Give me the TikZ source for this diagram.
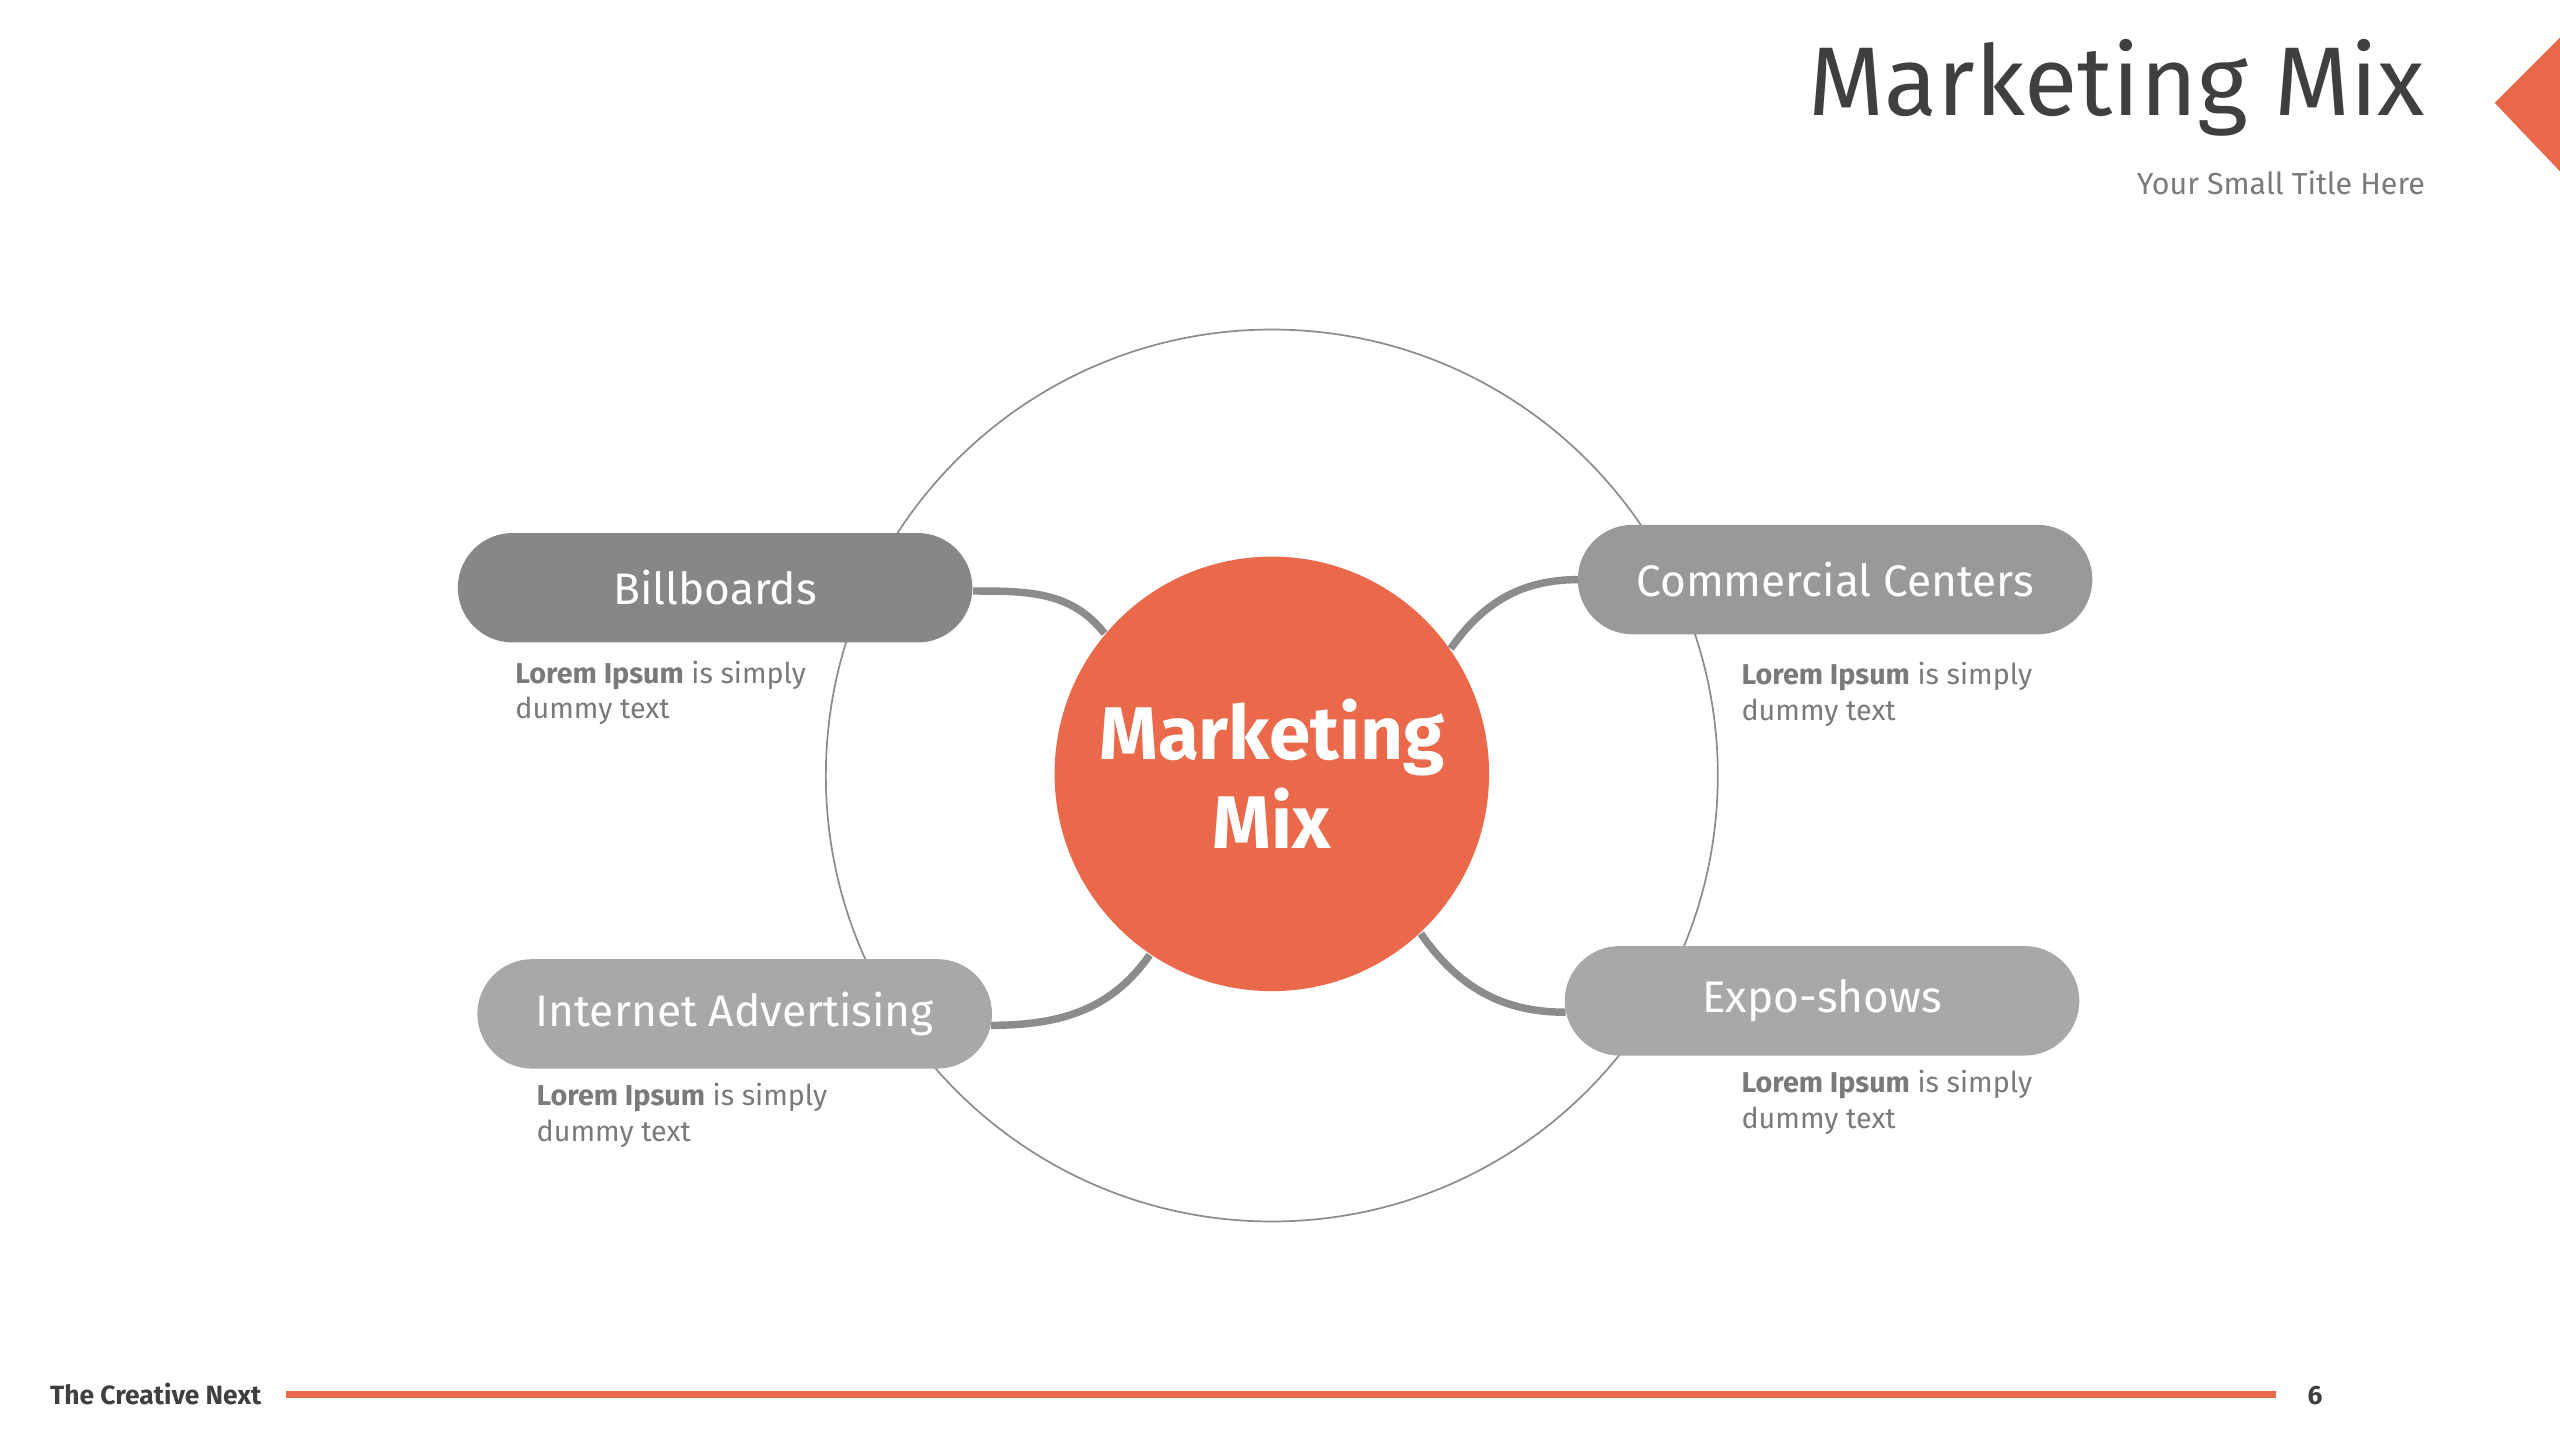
\documentclass[tikz,border=0pt]{standalone}
\usepackage{fontspec}
\setmainfont{Fira Sans}
\usetikzlibrary{positioning}
\definecolor{accent}{HTML}{E9694A}
\definecolor{darktext}{HTML}{3F3F3F}
\definecolor{graytext}{HTML}{7A7A7A}
\begin{document}
\begin{tikzpicture}[x=0.01cm, y=-0.01cm]
        \tikzset{%
         pill/.style={
            rounded corners=0.335cm,
            minimum width=3.15cm,
            minimum height=0.67cm,
            text=white,
            font=\fontsize{7.7}{9}\selectfont},
        link/.style={
            line width=1.3pt,
            draw=black!45},
        note/.style={
            align=left,
            anchor=north west,
            inner sep=0pt,
            text=graytext,
            font=\fontsize{5}{6.2}\selectfont},
        }
        \useasboundingbox (0,0) rectangle (1568,882);

        % outer ring and centre
        \node [circle, draw=black!45, line width=0.3pt, minimum size=5.46cm] (ring) at (779,475) {};
        \node [circle, fill=accent, inner sep=0pt, minimum size=2.66cm, align=center, text=white,
            font=\fontsize{13}{15.4}\selectfont\bfseries] (mix) at (779,474) {Marketing\\Mix};

        % connectors
        \draw [link] (596,362) to[out=0, in=128] (mix.140);
        \draw [link] (967,355) to[out=180, in=55] (mix.35);
        \draw [link] (607,628) to[out=0, in=-125] (mix.-124);
        \draw [link] (959,620) to[out=180, in=-55] (mix.-47);

        % boxes
        \node [pill, fill=black!47] (bill) at (438,360) {Billboards};
        \node [pill, fill=black!40] (comm) at (1124,355) {Commercial Centers};
        \node [pill, fill=black!34] (inet) at (450,621) {Internet Advertising};
        \node [pill, fill=black!34] (expo) at (1116,613) {Expo-shows};

        \foreach \n/\x/\y in {bill/315/404, comm/1066/405, inet/328/663, expo/1066/655}
            \node [note] (\n-note) at (\x,\y) {\textbf{Lorem Ipsum} is simply\\dummy text};

        % title
        \node [anchor=south east, inner sep=0pt, text=darktext,
            font=\fontsize{17}{17}\selectfont] (title) at (1486,84) {Marketing Mix};
        \node [anchor=south east, inner sep=0pt, text=graytext,
            font=\fontsize{5.3}{6}\selectfont] (subtitle) at (1486,120) {Your Small Title Here};
        \fill [accent] (1528,63) -- (1568,23) -- (1568,105) -- cycle;

        % footer
        \node [anchor=west, inner sep=0pt, text=darktext,
            font=\fontsize{4.6}{5}\selectfont\bfseries] (brand) at (30,854) {The Creative Next};
        \node [anchor=center, inner sep=0pt, text=darktext,
            font=\fontsize{4.6}{5}\selectfont\bfseries] (page) at (1418,855) {6};
        \draw [accent, line width=1.2pt] (175,854) -- (1394,854);
    \end{tikzpicture}
\end{document}
